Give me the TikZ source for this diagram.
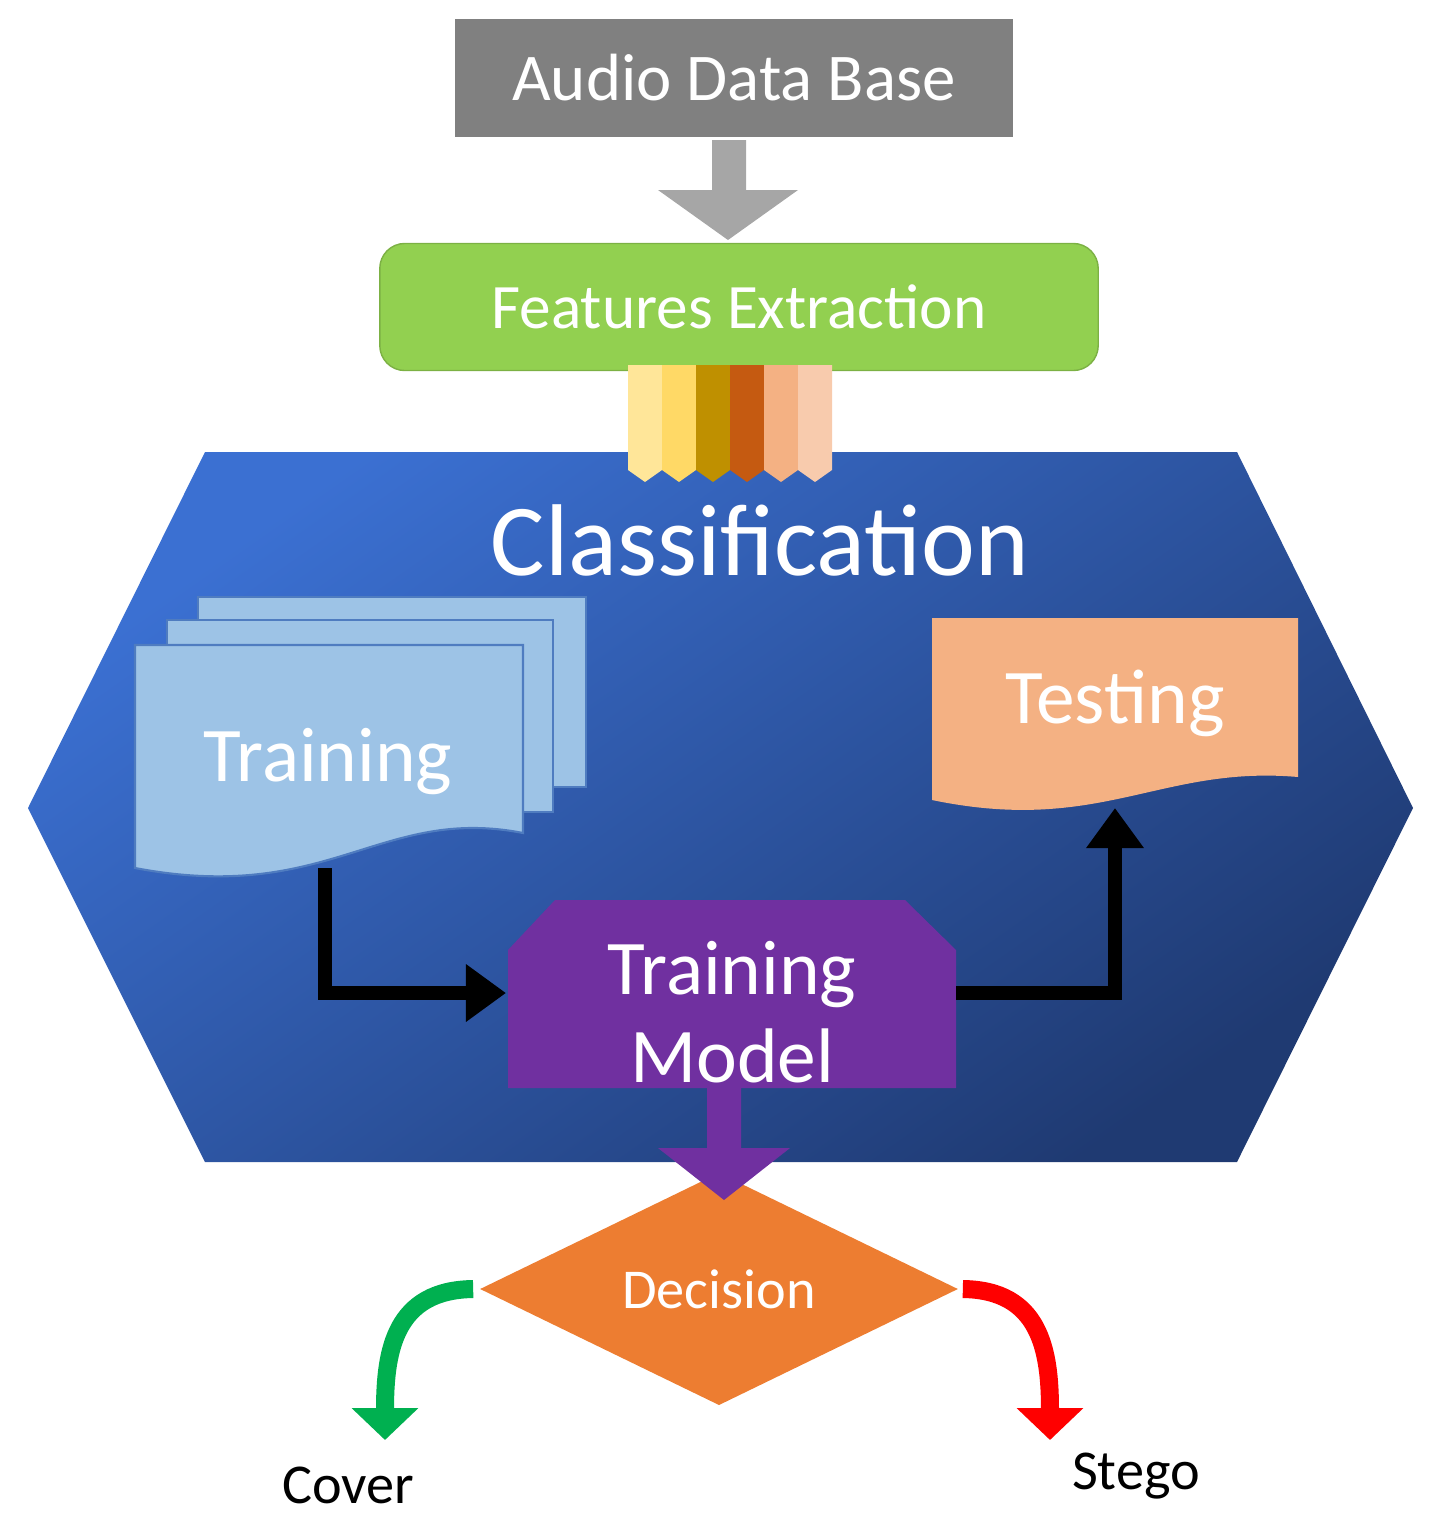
\documentclass[tikz,border=0pt]{standalone}
\usepackage{fontspec}
\setmainfont{Carlito}
\usetikzlibrary{arrows.meta,positioning,calc,shapes.geometric}
\definecolor{dbgray}{HTML}{808080}
\definecolor{argray}{HTML}{A6A6A6}
\definecolor{fegreen}{HTML}{92D050}
\definecolor{hexlight}{HTML}{3B70D2}
\definecolor{hexdark}{HTML}{1F3A72}
\definecolor{trblue}{HTML}{9DC3E6}
\definecolor{trline}{HTML}{4F7CC0}
\definecolor{tsorange}{HTML}{F4B183}
\definecolor{mdpurple}{HTML}{7030A0}
\definecolor{dcorange}{HTML}{ED7D31}
\definecolor{cvgreen}{HTML}{00B050}
\definecolor{stred}{HTML}{FF0000}
\begin{document}
\begin{tikzpicture}[
    x=0.01cm, y=-0.01cm,
    label text/.style={text=white, font=\fontsize{#1}{#1}\selectfont},
    doc/.style={fill=trblue, draw=trline, line width=0.6pt},
    flow/.style={draw=black, line width=1.4mm, -{Triangle[width=5.5mm,length=4mm]}},
    bend arrow/.style={draw=#1, line width=1.8mm, -{Triangle[width=6.5mm,length=3.2mm]}}
  ]
  \useasboundingbox (0,0) rectangle (1440,1536);

  % Data base and extraction
  \node[fill=dbgray, minimum width=5.57cm, minimum height=1.17cm,
        label text=19] (db) at (734,78) {Audio Data Base};
  \fill[argray] (712,140) -- (746,140) -- (746,190) -- (798,190) -- (728,240)
                -- (658,190) -- (712,190) -- cycle;
  \node[fill=fegreen, draw=fegreen!85!black, rounded corners=0.25cm,
        minimum width=7.18cm, minimum height=1.27cm,
        label text=18] (fe) at (739,307) {Features Extraction};

  % Classification block
  \shade[shading=axis, left color=hexlight, right color=hexdark, shading angle=35]
    (205,452) -- (1237,452) -- (1413,808) -- (1237,1162) -- (205,1162)
    -- (28,808) -- cycle;
  \foreach \c [count=\i] in {FFE699,FFD966,BF9000,C55A11,F4B183,F8CBAD}{
    \pgfmathsetmacro{\xa}{628+(\i-1)*34}
    \definecolor{strip}{HTML}{\c}
    \fill[strip] (\xa,365) -- (\xa+34,365) -- (\xa+34,470)
      -- (\xa+17,482) -- (\xa,470) -- cycle;
  }
  \node[label text=29] (cls) at (760,540) {Classification};

  % Training documents
  \draw[doc] (198,597) -- (586,597) -- (586,787) -- (198,787) -- cycle;
  \draw[doc] (167,620) -- (553,620) -- (553,812) -- (167,812) -- cycle;
  \draw[doc] (135,645) -- (523,645) -- (523,833)
    .. controls (380,805) and (330,905) .. (135,868) -- cycle;
  \node[label text=22] (train) at (328,762) {Training};
  \coordinate (trainout) at (325,868);

  % Testing document
  \fill[tsorange] (932,618) -- (1298,618) -- (1298,777)
    .. controls (1160,765) and (1100,835) .. (932,800) -- cycle;
  \node[label text=22] (test) at (1115,703) {Testing};
  \coordinate (testin) at (1115,808);

  % Training model
  \fill[mdpurple] (555,900) -- (905,900) -- (956,950) -- (956,1088)
    -- (508,1088) -- (508,950) -- cycle;
  \node[text=white, font=\fontsize{22}{25}\selectfont, align=center]
    (model) at (732,1012) {Training\\Model};
  \coordinate (mleft) at (506,993);
  \coordinate (mright) at (956,993);

  \draw[flow] (trainout) |- (mleft);
  \draw[flow] (mright) -| (testin);

  % Decision
  \node[diamond, fill=dcorange, minimum width=4.78cm, minimum height=2.22cm,
        inner sep=0pt, label text=16] (dec) at (719,1289) {Decision};
  \fill[mdpurple] (707,1088) -- (741,1088) -- (741,1148) -- (790,1148)
    -- (724,1200) -- (658,1148) -- (707,1148) -- cycle;
  \draw[bend arrow=cvgreen] ($(dec.west)+(-6,0)$)
    .. controls (395,1290) and (385,1350) .. (385,1440);
  \draw[bend arrow=stred] ($(dec.east)+(4,0)$)
    .. controls (1040,1290) and (1050,1350) .. (1050,1440);
  \node[font=\fontsize{16}{16}\selectfont] (cover) at (348,1485) {Cover};
  \node[font=\fontsize{16}{16}\selectfont] (stego) at (1136,1476) {Stego};
\end{tikzpicture}
\end{document}
